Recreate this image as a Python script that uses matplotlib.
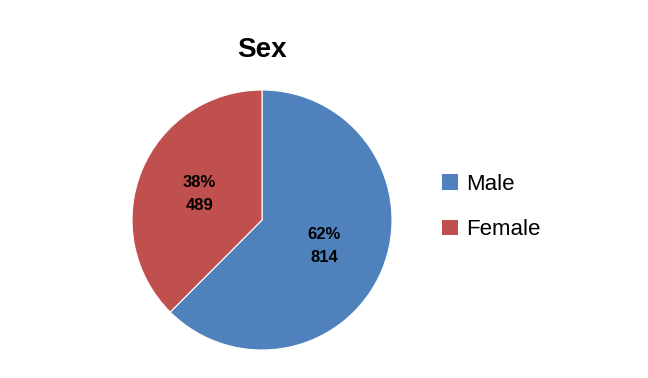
import matplotlib.pyplot as plt
from matplotlib.patches import Patch

# data
categorias = ['Male', 'Female']
valores = [814, 489]
cores = ['#4F81BD', '#C0504D']

plt.rcParams['font.family'] = ['Liberation Sans', 'DejaVu Sans']

fig = plt.figure(figsize=(6.48, 3.78), dpi=100)
ax = fig.add_axes([132 / 648, 28 / 378, 260 / 648, 260 / 378])

total = sum(valores)


def rotulo(pct):
    n = int(round(pct * total / 100.0))
    return '{:.0f}%\n{}'.format(pct, n)


wedges, textos, autotextos = ax.pie(
    valores, colors=cores, startangle=90, counterclock=False,
    autopct=rotulo, pctdistance=0.52,
    wedgeprops=dict(edgecolor='white', linewidth=0.8))
for t in autotextos:
    t.set_fontsize(12)
    t.set_fontweight('bold')
    t.set_linespacing(1.7)
ax.set_xlim(-1, 1)
ax.set_ylim(-1, 1)
ax.set_aspect('equal')

fig.text(262 / 648, 1 - 50 / 378, 'Sex', ha='center', va='center',
         fontsize=20, fontweight='bold')

handles = [Patch(facecolor=c, edgecolor='none') for c in cores]
fig.legend(handles, categorias, loc='center left',
           bbox_to_anchor=(422 / 648, 1 - 207 / 378), frameon=False,
           fontsize=16, handlelength=0.7, handleheight=0.7,
           handletextpad=0.4, labelspacing=1.1)

fig.savefig('out.png', dpi=100)
